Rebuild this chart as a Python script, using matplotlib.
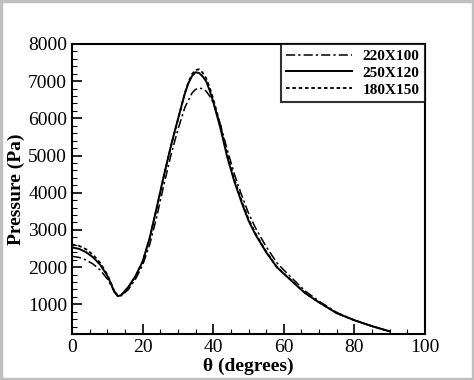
import matplotlib.pyplot as plt
from matplotlib.patches import Rectangle
from matplotlib.ticker import MultipleLocator

# theta (degrees)
theta_a = [0, 2, 4, 6, 8, 10, 11, 12, 13, 14, 16, 18, 20, 22, 24, 26, 28, 30, 32, 34, 35, 36, 37,
           38, 39, 40, 42, 44, 46, 48, 50, 52, 55, 58, 60, 63, 66, 70, 75, 80, 85, 90]
p_220x100 = [2290, 2260, 2190, 2080, 1920, 1680, 1520, 1350, 1240, 1230, 1400, 1680, 2050, 2600,
             3350, 4200, 5000, 5700, 6300, 6680, 6780, 6810, 6800, 6730, 6600, 6420, 5850, 5150,
             4500, 3950, 3450, 3050, 2550, 2120, 1920, 1640, 1360, 1080, 780, 570, 410, 270]

theta_b = [0, 2, 4, 6, 8, 10, 11, 12, 13, 14, 16, 18, 20, 22, 24, 26, 28, 29, 30, 31, 32, 33, 34,
           35, 36, 37, 38, 39, 40, 42, 44, 46, 48, 50, 52, 55, 58, 60, 63, 66, 70, 75, 80, 85, 90]
p_250x120 = [2530, 2490, 2400, 2260, 2060, 1770, 1560, 1330, 1215, 1250, 1470, 1760, 2150, 2780,
             3600, 4450, 5250, 5620, 5970, 6330, 6680, 6950, 7140, 7240, 7220, 7130, 7000, 6750,
             6450, 5750, 4950, 4300, 3750, 3250, 2870, 2400, 2000, 1820, 1560, 1300, 1050, 760,
             570, 410, 270]
p_180x150 = [2610, 2570, 2480, 2330, 2110, 1800, 1580, 1340, 1220, 1250, 1460, 1750, 2140, 2770,
             3580, 4430, 5230, 5600, 5960, 6330, 6690, 6980, 7190, 7300, 7320, 7230, 7080, 6830,
             6530, 5830, 5020, 4360, 3800, 3290, 2900, 2420, 2010, 1830, 1570, 1305, 1050, 760,
             570, 410, 270]

labels = ["220X100", "250X120", "180X150"]

plt.rcParams['font.family'] = ['Liberation Serif', 'DejaVu Serif']

fig = plt.figure(figsize=(4.74, 3.8), dpi=100)
ax = fig.add_axes([72 / 474, 1 - 334 / 380, 353 / 474, 290 / 380])

ax.plot(theta_a, p_220x100, color='black', lw=1.1, ls=(0, (6, 2, 1.5, 2)), label=labels[0])
ax.plot(theta_b, p_250x120, color='black', lw=1.4, ls='-', label=labels[1])
ax.plot(theta_b, p_180x150, color='black', lw=1.3, ls=(0, (2, 1.5)), label=labels[2])

ax.set_xlim(0, 100)
ax.set_ylim(200, 8000)
ax.set_yticks([1000, 2000, 3000, 4000, 5000, 6000, 7000, 8000])
ax.xaxis.set_major_locator(MultipleLocator(20))
ax.xaxis.set_minor_locator(MultipleLocator(5))
ax.yaxis.set_minor_locator(MultipleLocator(200))
ax.tick_params(which='both', direction='in', top=False, right=False, labelsize=14, width=1.2)
ax.tick_params(which='major', length=7)
ax.tick_params(which='minor', length=3.5, width=0.8)
for s in ax.spines.values():
    s.set_linewidth(1.5)

ax.set_xlabel("θ (degrees)", fontsize=14, fontweight='bold', labelpad=1)
ax.set_ylabel("Pressure (Pa)", fontsize=14, fontweight='bold', labelpad=2)

leg = ax.legend(loc='upper right', prop={'weight': 'bold', 'size': 11},
                frameon=True, fancybox=False, borderaxespad=0, handlelength=4.3,
                handletextpad=0.7, borderpad=0.35, labelspacing=0.2)
leg.get_frame().set_edgecolor('black')
leg.get_frame().set_linewidth(1.5)

fig.patches.append(Rectangle((0.003, 0.003), 0.994, 0.994, transform=fig.transFigure,
                             fill=False, edgecolor='#c0c0c0', lw=2.5))

fig.savefig("out.png", dpi=100)
